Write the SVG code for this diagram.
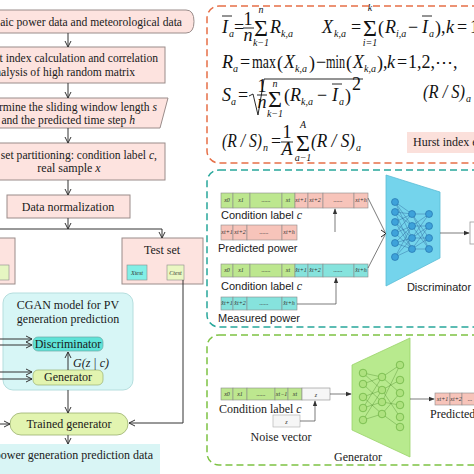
<svg xmlns="http://www.w3.org/2000/svg" width="474" height="474" viewBox="0 0 474 474">
<defs>
<style>
.t{font-family:"Liberation Serif","Times New Roman",serif;font-size:12px;fill:#1a1a1a}
.tt{font-size:11.6px}
.s{font-family:"Liberation Sans",Arial,sans-serif;font-size:11px;fill:#1a1a1a}
.m{font-family:"Liberation Serif","Times New Roman",serif;font-size:18px;font-style:italic;fill:#111}
.r{font-family:"Liberation Serif","Times New Roman",serif;font-size:18px;fill:#111}
.sb{font-family:"Liberation Serif","Times New Roman",serif;font-size:10px;font-style:italic;fill:#111}
.sg{font-family:"Liberation Serif","Times New Roman",serif;font-size:24px;fill:#111}
.c{font-family:"Liberation Serif","Times New Roman",serif;font-size:6px;font-style:italic;fill:#333;text-anchor:middle}
.pink{fill:#fde3df;stroke:#9a8c8a;stroke-width:1}
.cell{stroke:#8a8a8a;stroke-width:0.6}
.cg{fill:#bde78f}.cp{fill:#f7c4ba}.cc{fill:#86e3dd}
.ln{fill:none;stroke:#333;stroke-width:1}
.thin{fill:none;stroke:#444;stroke-width:0.7}
.bar{stroke:#111;stroke-width:0.9}
.dn{fill:#3ea2da;stroke:#1f6aa8;stroke-width:0.6}
.gn{fill:#aee27f;stroke:#5aa632;stroke-width:0.6}
.dl{stroke:#1d4f8a;stroke-width:0.35}
.gl{stroke:#3f7f20;stroke-width:0.35}
</style>
<marker id="ah" viewBox="0 0 8 8" refX="7" refY="4" markerWidth="8" markerHeight="8" markerUnits="userSpaceOnUse" orient="auto"><path d="M1,1 L7,4 L1,7" fill="none" stroke="#333" stroke-width="1"/></marker>
<marker id="af" viewBox="0 0 8 8" refX="7" refY="4" markerWidth="6" markerHeight="6" markerUnits="userSpaceOnUse" orient="auto"><path d="M0,1 L8,4 L0,7 Z" fill="#333"/></marker>
</defs>

<!-- Left flowchart nodes -->
<g id="n-input">
<path class="pink" d="M-5,10 H186 Q194,10 194,21.5 Q194,33 186,33 H-5 Z"/>
<text class="t tt" x="182" y="26" text-anchor="end">aic power data and meteorological data</text>
</g>
<g id="n-hurst-calc">
<rect class="pink" x="-5" y="47" width="170" height="36"/>
<text class="t tt" x="158" y="62" text-anchor="end">t index calculation and correlation</text>
<text class="t tt" x="135" y="76" text-anchor="end">nalysis of high random matrix</text>
</g>
<g id="n-window">
<path class="pink" d="M-10,98 H168 L160,128 H-10 Z"/>
<text class="t tt" x="157" y="111" text-anchor="end">rmine the sliding window length <tspan font-style="italic">s</tspan></text>
<text class="t tt" x="135" y="124" text-anchor="end">and the predicted time step <tspan font-style="italic">h</tspan></text>
</g>
<g id="n-partition">
<rect class="pink" x="-5" y="143" width="170" height="37"/>
<text class="t tt" x="157" y="159" text-anchor="end">set partitioning: condition label <tspan font-style="italic">c</tspan>,</text>
<text class="t" x="69" y="172" text-anchor="middle">real sample <tspan font-style="italic">x</tspan></text>
</g>
<g id="n-norm">
<rect class="pink" x="7" y="195" width="123" height="23"/>
<text class="t" x="68" y="211" text-anchor="middle">Data normalization</text>
</g>
<g id="n-train">
<rect class="pink" x="-10" y="238" width="25" height="46"/>
<rect x="-10" y="265" width="19" height="15" fill="#e6f6c2" stroke="#8a8a8a" stroke-width="0.6"/>
</g>
<g id="n-test">
<rect class="pink" x="122" y="238" width="81" height="46"/>
<text class="t" x="162" y="254" text-anchor="middle">Test set</text>
<rect x="127" y="265" width="20" height="15" fill="#82efe6" stroke="#8a8a8a" stroke-width="0.6"/>
<text class="c" x="137" y="275" font-size="6.5">Xtest</text>
<rect x="167" y="265" width="17" height="15" fill="#eaf7c2" stroke="#8a8a8a" stroke-width="0.6"/>
<text class="c" x="175.5" y="275" font-size="6.5">Ctest</text>
</g>
<g id="n-cgan">
<rect x="3" y="293" width="130" height="97" rx="10" fill="#d7f6f6" stroke="#b5dede" stroke-width="1"/>
<text class="t" x="68" y="309" text-anchor="middle">CGAN model for PV</text>
<text class="t" x="68" y="323" text-anchor="middle">generation prediction</text>
</g>
<g id="n-disc">
<rect x="33" y="337" width="70" height="14" rx="5" fill="#5fe3d8" stroke="#6aa8a4" stroke-width="0.7"/>
<text class="t" x="68" y="348" text-anchor="middle">Discriminator</text>
</g>
<g id="n-gen">
<rect x="33" y="370" width="70" height="15" rx="5" fill="#e2f4b0" stroke="#9ab070" stroke-width="0.7"/>
<text class="t" x="68" y="381" text-anchor="middle">Generator</text>
</g>
<g id="n-trained">
<rect x="10" y="413" width="118" height="22" rx="11" fill="#e2f4b0" stroke="#9ab070" stroke-width="0.8"/>
<text class="t" x="69" y="428" text-anchor="middle">Trained generator</text>
</g>
<g id="n-output">
<rect x="-5" y="444" width="165" height="35" fill="#d9f5f5"/>
<text class="t" x="153" y="459" text-anchor="end">power generation prediction data</text>
</g>

<!-- Left connectors -->
<g id="connectors-left">
<line class="ln" x1="68" y1="33" x2="68" y2="47" marker-end="url(#ah)"/>
<line class="ln" x1="68" y1="83" x2="68" y2="98" marker-end="url(#ah)"/>
<line class="ln" x1="68" y1="128" x2="68" y2="143" marker-end="url(#ah)"/>
<line class="ln" x1="68" y1="180" x2="68" y2="195" marker-end="url(#ah)"/>
<line class="ln" x1="68" y1="218" x2="68" y2="229" marker-end="url(#ah)"/>
<line class="ln" x1="-5" y1="229" x2="162" y2="229"/>
<line class="ln" x1="162" y1="229" x2="162" y2="238" marker-end="url(#ah)"/>
<line class="ln" x1="-5" y1="339" x2="32" y2="339" marker-end="url(#ah)"/>
<line class="ln" x1="-5" y1="345" x2="32" y2="345" marker-end="url(#ah)"/>
<line class="ln" x1="-5" y1="372" x2="32" y2="372" marker-end="url(#ah)"/>
<line class="ln" x1="-5" y1="379" x2="32" y2="379" marker-end="url(#ah)"/>
<line class="ln" x1="68" y1="370" x2="68" y2="352" marker-end="url(#ah)"/>
<text class="t" x="73" y="367" font-style="italic" font-size="11">G(z | c)</text>
<line class="ln" x1="68" y1="390" x2="68" y2="413" marker-end="url(#ah)"/>
<line class="ln" x1="-5" y1="424" x2="10" y2="424" marker-end="url(#ah)"/>
<line class="ln" x1="68" y1="435" x2="68" y2="444" marker-end="url(#ah)"/>
<path class="ln" d="M183,280 V423 H129" marker-end="url(#ah)"/>
</g>

<!-- Hurst panel -->
<g id="panel-hurst">
<rect x="207" y="6" width="300" height="157" rx="12" fill="none" stroke="#e66f47" stroke-width="1.5" stroke-dasharray="7 4"/>
<!-- line 1 -->
<text class="m" x="222" y="33">I</text><line class="bar" x1="222" y1="16" x2="232" y2="16"/>
<text class="sb" x="229" y="37">a</text>
<text class="r" x="234" y="33">=</text>
<text class="r" x="248" y="25" font-size="13" text-anchor="middle">1</text>
<line class="bar" x1="243" y1="28" x2="254" y2="28"/>
<text class="m" x="248" y="41" font-size="14" text-anchor="middle">n</text>
<text class="sg" x="254" y="36">Σ</text>
<text class="sb" x="261" y="13" text-anchor="middle">n</text>
<text class="sb" x="261" y="46" text-anchor="middle">k−1</text>
<text class="m" x="270" y="33">R</text><text class="sb" x="281" y="37">k,a</text>
<text class="m" x="322" y="33">X</text><text class="sb" x="334" y="37">k,a</text>
<text class="r" x="351" y="33">=</text>
<text class="sg" x="363" y="36">Σ</text>
<text class="sb" x="370" y="11" text-anchor="middle">k</text>
<text class="sb" x="370" y="46" text-anchor="middle">i=1</text>
<text class="r" x="378" y="34" font-size="20">(</text>
<text class="m" x="385" y="33">R</text><text class="sb" x="396" y="37">i,a</text>
<text class="r" x="408" y="33">−</text>
<text class="m" x="422" y="33">I</text><line class="bar" x1="422" y1="16" x2="432" y2="16"/>
<text class="sb" x="429" y="37">a</text>
<text class="r" x="435" y="34" font-size="20">)</text>
<text class="r" x="441" y="33">,</text>
<text class="m" x="446" y="33">k</text>
<text class="r" x="457" y="33">=</text>
<text class="r" x="470" y="33">1</text>
<!-- line 2 -->
<text class="m" x="222" y="68">R</text><text class="sb" x="233" y="72">a</text>
<text class="r" x="240" y="68">=</text>
<text class="r" x="252" y="68" textLength="24" lengthAdjust="spacingAndGlyphs">max</text>
<text class="r" x="277" y="69" font-size="20">(</text>
<text class="m" x="284" y="68">X</text><text class="sb" x="295" y="72">k,a</text>
<text class="r" x="309" y="69" font-size="20">)</text>
<text class="r" x="316" y="68">−</text>
<text class="r" x="326" y="68" textLength="19" lengthAdjust="spacingAndGlyphs">min</text>
<text class="r" x="346" y="69" font-size="20">(</text>
<text class="m" x="353" y="68">X</text><text class="sb" x="364" y="72">k,a</text>
<text class="r" x="377" y="69" font-size="20">)</text>
<text class="r" x="383" y="68">,</text>
<text class="m" x="387" y="68">k</text>
<text class="r" x="397" y="68">=</text>
<text class="r" x="408" y="68">1,2,⋯,</text>
<!-- line 3 -->
<text class="m" x="222" y="101">S</text><text class="sb" x="231" y="105">a</text>
<text class="r" x="238" y="101">=</text>
<path d="M249,96 L253,94 L258,115 L264,79 H363" fill="none" stroke="#111" stroke-width="0.9"/>
<text class="r" x="262" y="92" font-size="13" text-anchor="middle">1</text>
<line class="bar" x1="257" y1="95" x2="267" y2="95"/>
<text class="m" x="262" y="108" font-size="14" text-anchor="middle">n</text>
<text class="sg" x="268" y="107">Σ</text>
<text class="sb" x="275" y="87" text-anchor="middle">n</text>
<text class="sb" x="275" y="117" text-anchor="middle">k−1</text>
<text class="r" x="284" y="102" font-size="20">(</text>
<text class="m" x="290" y="101">R</text><text class="sb" x="301" y="105">k,a</text>
<text class="r" x="317" y="101">−</text>
<text class="m" x="332" y="101">I</text><line class="bar" x1="332" y1="84" x2="342" y2="84"/>
<text class="sb" x="339" y="105">a</text>
<text class="r" x="345" y="102" font-size="20">)</text>
<text class="r" x="352" y="90" font-size="11">2</text>
<text class="m" x="423" y="98" textLength="42" lengthAdjust="spacingAndGlyphs">(R / S)</text><text class="sb" x="466" y="102">a</text>
<!-- line 4 -->
<text class="m" x="222" y="147" textLength="40" lengthAdjust="spacingAndGlyphs">(R / S)</text><text class="sb" x="263" y="151">n</text>
<text class="r" x="271" y="147">=</text>
<text class="r" x="287" y="138" font-size="13" text-anchor="middle">1</text>
<line class="bar" x1="281" y1="142" x2="293" y2="142"/>
<text class="m" x="287" y="155" font-size="14" text-anchor="middle">A</text>
<text class="sg" x="296" y="151">Σ</text>
<text class="sb" x="303" y="128" text-anchor="middle">A</text>
<text class="sb" x="303" y="161" text-anchor="middle">a−1</text>
<text class="m" x="311" y="147" textLength="44" lengthAdjust="spacingAndGlyphs">(R / S)</text><text class="sb" x="356" y="151">a</text>
<rect x="407" y="132" width="80" height="21" fill="#fbe0db"/>
<text class="t" x="413" y="146">Hurst index e</text>
</g>

<!-- Discriminator panel -->
<g id="panel-disc">
<rect x="207" y="170" width="300" height="157" rx="12" fill="none" stroke="#27a79b" stroke-width="1.5" stroke-dasharray="7 4"/>
<rect class="cell cg" x="221" y="193" width="12" height="15"/><rect class="cell cg" x="233" y="193" width="17" height="15"/><rect class="cell cg" x="250" y="193" width="32" height="15"/><rect class="cell cg" x="282" y="193" width="13" height="15"/>
<rect class="cell cp" x="295" y="193" width="13" height="15"/><rect class="cell cp" x="308" y="193" width="15" height="15"/><rect class="cell cp" x="323" y="193" width="31" height="15"/><rect class="cell cp" x="354" y="193" width="14" height="15"/>
<text class="c" x="227" y="202">x0</text><text class="c" x="241" y="202">x1</text><text class="c" x="266" y="202">......</text><text class="c" x="288" y="202">xt</text>
<text class="c" x="301" y="202">xt+1</text><text class="c" x="315" y="202">xt+2</text><text class="c" x="338" y="202">......</text><text class="c" x="361" y="202">xt+h</text>
<text class="s" x="221" y="219">Condition label <tspan font-family="Liberation Serif" font-style="italic" font-size="12">c</tspan></text>
<rect class="cell cp" x="221" y="225" width="12" height="15"/><rect class="cell cp" x="233" y="225" width="14" height="15"/><rect class="cell cp" x="247" y="225" width="35" height="15"/><rect class="cell cp" x="282" y="225" width="15" height="15"/>
<text class="c" x="227" y="234">xt+1</text><text class="c" x="240" y="234">xt+2</text><text class="c" x="264" y="234">......</text><text class="c" x="289" y="234">xt+h</text>
<text class="s" x="218" y="252">Predicted power</text>
<rect class="cell cg" x="221" y="264" width="12" height="13"/><rect class="cell cg" x="233" y="264" width="17" height="13"/><rect class="cell cg" x="250" y="264" width="32" height="13"/><rect class="cell cg" x="282" y="264" width="13" height="13"/>
<rect class="cell cc" x="295" y="264" width="13" height="13"/><rect class="cell cc" x="308" y="264" width="15" height="13"/><rect class="cell cc" x="323" y="264" width="31" height="13"/><rect class="cell cc" x="354" y="264" width="14" height="13"/>
<text class="c" x="227" y="272">x0</text><text class="c" x="241" y="272">x1</text><text class="c" x="266" y="272">......</text><text class="c" x="288" y="272">xt</text>
<text class="c" x="301" y="272">x̂t+1</text><text class="c" x="315" y="272">x̂t+2</text><text class="c" x="338" y="272">......</text><text class="c" x="361" y="272">x̂t+h</text>
<text class="s" x="221" y="290">Condition label <tspan font-family="Liberation Serif" font-style="italic" font-size="12">c</tspan></text>
<rect class="cell cc" x="221" y="297" width="12" height="13"/><rect class="cell cc" x="233" y="297" width="14" height="13"/><rect class="cell cc" x="247" y="297" width="35" height="13"/><rect class="cell cc" x="282" y="297" width="15" height="13"/>
<text class="c" x="227" y="305">x̂t+1</text><text class="c" x="240" y="305">x̂t+2</text><text class="c" x="264" y="305">......</text><text class="c" x="289" y="305">x̂t+h</text>
<text class="s" x="218" y="322">Measured power</text>
</g>
<g id="n-disc-net">
<polygon points="386,175 440,192 440,258 386,286" fill="#74d4ec" stroke="#5bbcd6" stroke-width="0.8"/>
<g>
<line class="dl" x1="395" y1="202" x2="412" y2="214"/><line class="dl" x1="395" y1="202" x2="412" y2="226"/><line class="dl" x1="395" y1="202" x2="412" y2="238"/>
<line class="dl" x1="395" y1="212" x2="412" y2="214"/><line class="dl" x1="395" y1="212" x2="412" y2="226"/><line class="dl" x1="395" y1="212" x2="412" y2="249"/>
<line class="dl" x1="395" y1="222" x2="412" y2="214"/><line class="dl" x1="395" y1="222" x2="412" y2="238"/><line class="dl" x1="395" y1="222" x2="412" y2="249"/>
<line class="dl" x1="395" y1="233" x2="412" y2="214"/><line class="dl" x1="395" y1="233" x2="412" y2="226"/><line class="dl" x1="395" y1="233" x2="412" y2="249"/>
<line class="dl" x1="395" y1="243" x2="412" y2="226"/><line class="dl" x1="395" y1="243" x2="412" y2="238"/><line class="dl" x1="395" y1="243" x2="412" y2="249"/>
<line class="dl" x1="395" y1="257" x2="412" y2="238"/><line class="dl" x1="395" y1="257" x2="412" y2="249"/><line class="dl" x1="395" y1="257" x2="412" y2="226"/>
<line class="dl" x1="412" y1="214" x2="429" y2="214"/><line class="dl" x1="412" y1="214" x2="429" y2="238"/><line class="dl" x1="412" y1="214" x2="429" y2="249"/>
<line class="dl" x1="412" y1="226" x2="429" y2="214"/><line class="dl" x1="412" y1="226" x2="429" y2="226"/><line class="dl" x1="412" y1="226" x2="429" y2="249"/>
<line class="dl" x1="412" y1="238" x2="429" y2="214"/><line class="dl" x1="412" y1="238" x2="429" y2="226"/><line class="dl" x1="412" y1="238" x2="429" y2="238"/>
<line class="dl" x1="412" y1="249" x2="429" y2="226"/><line class="dl" x1="412" y1="249" x2="429" y2="238"/><line class="dl" x1="412" y1="249" x2="429" y2="249"/>
</g>
<circle class="dn" cx="395" cy="202" r="3.5"/><circle class="dn" cx="395" cy="212" r="3.5"/><circle class="dn" cx="395" cy="222" r="3.5"/><circle class="dn" cx="395" cy="233" r="3.5"/><circle class="dn" cx="395" cy="243" r="3.5"/><circle class="dn" cx="395" cy="257" r="3.5"/>
<circle class="dn" cx="412" cy="214" r="3.5"/><circle class="dn" cx="412" cy="226" r="3.5"/><circle class="dn" cx="412" cy="238" r="3.5"/><circle class="dn" cx="412" cy="249" r="3.5"/>
<circle class="dn" cx="429" cy="214" r="3.5"/><circle class="dn" cx="429" cy="226" r="3.5"/><circle class="dn" cx="429" cy="238" r="3.5"/><circle class="dn" cx="429" cy="249" r="3.5"/>
<text class="s" x="439" y="291" text-anchor="middle">Discriminator</text>
</g>
<g id="n-disc-out">
<rect x="470" y="222" width="20" height="22" fill="#fff" stroke="#999" stroke-width="0.8"/>
</g>

<!-- Generator panel -->
<g id="panel-gen">
<rect x="207" y="335" width="300" height="130" rx="12" fill="none" stroke="#7dc243" stroke-width="1.5" stroke-dasharray="7 4"/>
<rect class="cell cg" x="221" y="388" width="12" height="12"/><rect class="cell cg" x="233" y="388" width="14" height="12"/><rect class="cell cg" x="247" y="388" width="28" height="12"/><rect class="cell cg" x="275" y="388" width="13" height="12"/><rect class="cell cg" x="288" y="388" width="14" height="12"/>
<rect class="cell" x="302" y="388" width="28" height="12" fill="#f6f6f6"/>
<text class="c" x="227" y="396">x0</text><text class="c" x="240" y="396">x1</text><text class="c" x="261" y="396">......</text><text class="c" x="281.5" y="396">xt−1</text><text class="c" x="295" y="396">xt</text>
<text class="c" x="316" y="397" font-size="8">z</text>
<text class="t" x="219" y="413" font-size="11.5">Condition label <tspan font-style="italic">c</tspan></text>
<rect x="273" y="415" width="27" height="12" fill="#f6f6f6" stroke="#aaa" stroke-width="0.6"/>
<text class="c" x="286.5" y="424" font-size="8">z</text>
<text class="t" x="281" y="441" text-anchor="middle" font-size="11.5">Noise vector</text>
</g>
<g id="n-gen-net">
<polygon points="352,365 410,338 410,457 352,430" fill="#b8ea8e" stroke="#9bd36a" stroke-width="0.8"/>
<g>
<line class="gl" x1="363" y1="373" x2="382" y2="377"/><line class="gl" x1="363" y1="373" x2="382" y2="390"/><line class="gl" x1="363" y1="384" x2="382" y2="377"/><line class="gl" x1="363" y1="384" x2="382" y2="402"/>
<line class="gl" x1="363" y1="397" x2="382" y2="390"/><line class="gl" x1="363" y1="397" x2="382" y2="414"/><line class="gl" x1="363" y1="408" x2="382" y2="402"/><line class="gl" x1="363" y1="408" x2="382" y2="377"/>
<line class="gl" x1="363" y1="420" x2="382" y2="414"/><line class="gl" x1="363" y1="420" x2="382" y2="390"/>
<line class="gl" x1="382" y1="377" x2="400" y2="365"/><line class="gl" x1="382" y1="377" x2="400" y2="393"/><line class="gl" x1="382" y1="390" x2="400" y2="380"/><line class="gl" x1="382" y1="390" x2="400" y2="417"/>
<line class="gl" x1="382" y1="402" x2="400" y2="365"/><line class="gl" x1="382" y1="402" x2="400" y2="405"/><line class="gl" x1="382" y1="414" x2="400" y2="393"/><line class="gl" x1="382" y1="414" x2="400" y2="427"/>
</g>
<circle class="gn" cx="363" cy="373" r="3.8"/><circle class="gn" cx="363" cy="384" r="3.8"/><circle class="gn" cx="363" cy="397" r="3.8"/><circle class="gn" cx="363" cy="408" r="3.8"/><circle class="gn" cx="363" cy="420" r="3.8"/>
<circle class="gn" cx="382" cy="377" r="3.8"/><circle class="gn" cx="382" cy="390" r="3.8"/><circle class="gn" cx="382" cy="402" r="3.8"/><circle class="gn" cx="382" cy="414" r="3.8"/>
<circle class="gn" cx="400" cy="365" r="3.8"/><circle class="gn" cx="400" cy="380" r="3.8"/><circle class="gn" cx="400" cy="393" r="3.8"/><circle class="gn" cx="400" cy="405" r="3.8"/><circle class="gn" cx="400" cy="417" r="3.8"/><circle class="gn" cx="400" cy="427" r="3.8"/>
<text class="t" x="358" y="461" text-anchor="middle" font-size="12.5">Generator</text>
</g>
<g id="n-gen-out">
<rect class="cell cp" x="435" y="393" width="15" height="12"/><rect class="cell cp" x="450" y="393" width="12" height="12"/><rect class="cell cp" x="462" y="393" width="30" height="12"/>
<text class="c" x="442.5" y="401">xt+1</text><text class="c" x="456" y="401">xt+2</text><text class="c" x="470" y="401">...</text>
<text class="t" x="430" y="418" font-size="12.5">Predicted</text>
</g>

<!-- Right connectors -->
<g id="connectors-right">
<line class="thin" x1="335" y1="232" x2="335" y2="209" marker-end="url(#af)"/>
<path class="thin" d="M297,304 H336 V278" marker-end="url(#af)"/>
<line class="thin" x1="368" y1="198" x2="385" y2="232"/>
<line class="thin" x1="368" y1="268" x2="385" y2="235"/>
<path d="M381,230 L386,233.5 L381,237" fill="none" stroke="#222" stroke-width="1"/>
<line class="thin" x1="440" y1="233" x2="469" y2="233" marker-end="url(#af)"/>
<path class="thin" d="M300,421 H315 V401" marker-end="url(#af)"/>
<line class="thin" x1="330" y1="394" x2="351" y2="394" marker-end="url(#af)"/>
<line class="thin" x1="410" y1="399" x2="434" y2="399" marker-end="url(#af)"/>
</g>
</svg>
